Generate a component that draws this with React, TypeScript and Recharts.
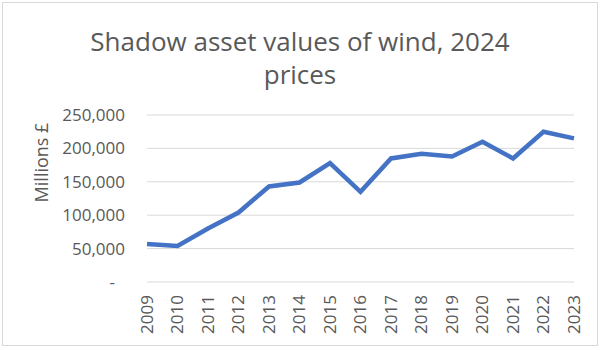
import React from 'react';
import { LineChart, Line, XAxis, YAxis, CartesianGrid, Label } from 'recharts';

const years = [
  '2009', '2010', '2011', '2012', '2013', '2014', '2015', '2016',
  '2017', '2018', '2019', '2020', '2021', '2022', '2023',
];

const assetValues = [
  57000, 54000, 80000, 104000, 143000, 149000, 178000, 135000,
  185000, 192000, 188000, 210000, 185000, 225000, 215000,
];

const yTicks = [0, 50000, 100000, 150000, 200000, 250000];

const titleLines = ['Shadow asset values of wind, 2024', 'prices'];

const data = years.map((year, i) => ({ year, value: assetValues[i] }));

const FONT = '"Open Sans", sans-serif';
const TEXT = '#595959';

const YTick = (props: any) => {
  const { x, y, payload } = props;
  const v = payload.value as number;
  const label = v === 0 ? '-' : v.toLocaleString('en-GB');
  return (
    <text
      x={v === 0 ? x - 10 : x}
      y={y}
      dy="0.35em"
      textAnchor="end"
      fill={TEXT}
      fontSize={17}
      fontFamily={FONT}
    >
      {label}
    </text>
  );
};

const XTick = (props: any) => {
  const { x, y, payload } = props;
  const ty = y + 13;
  return (
    <text
      x={x}
      y={ty}
      dy="0.35em"
      textAnchor="end"
      transform={`rotate(-90, ${x}, ${ty})`}
      fill={TEXT}
      fontSize={17}
      fontFamily={FONT}
    >
      {payload.value}
    </text>
  );
};

const App: React.FC = () => {
  return (
    <div
      style={{
        position: 'absolute',
        left: 0,
        top: 0,
        width: 600,
        height: 350,
        background: '#fff',
        fontFamily: FONT,
      }}
    >
      <div
        style={{
          position: 'absolute',
          left: 2,
          top: 2,
          width: 596,
          height: 344,
          border: '1px solid #d9d9d9',
          boxSizing: 'border-box',
        }}
      />
      <div
        style={{
          position: 'absolute',
          left: 0,
          top: 25,
          width: 600,
          textAlign: 'center',
          color: TEXT,
          fontSize: 26,
          lineHeight: '33px',
        }}
      >
        {titleLines.map((t) => (
          <div key={t}>{t}</div>
        ))}
      </div>
      <LineChart
        width={600}
        height={350}
        data={data}
        margin={{ top: 115, right: 26, left: 0, bottom: 0 }}
        style={{ position: 'absolute', left: 0, top: 0 }}
      >
        <CartesianGrid vertical={false} stroke="#d9d9d9" strokeWidth={1} />
        <XAxis
          dataKey="year"
          height={68}
          axisLine={false}
          tickLine={false}
          tickSize={0}
          tickMargin={0}
          interval={0}
          tick={<XTick />}
        />
        <YAxis
          width={147}
          domain={[0, 250000]}
          ticks={yTicks}
          axisLine={false}
          tickLine={false}
          tickSize={0}
          tickMargin={22}
          tick={<YTick />}
        >
          <Label
            content={(p: any) => {
              const vb = p.viewBox;
              const cx = 42;
              const cy = vb.y + vb.height / 2 - 36;
              return (
                <text
                  x={cx}
                  y={cy}
                  dy="0.35em"
                  textAnchor="middle"
                  transform={`rotate(-90, ${cx}, ${cy})`}
                  fill={TEXT}
                  fontSize={18}
                  fontFamily={FONT}
                >
                  Millions £
                </text>
              );
            }}
          />
        </YAxis>
        <Line
          type="linear"
          dataKey="value"
          stroke="#4472C4"
          strokeWidth={4.5}
          dot={false}
          activeDot={false}
          isAnimationActive={false}
        />
      </LineChart>
    </div>
  );
};

export default App;
